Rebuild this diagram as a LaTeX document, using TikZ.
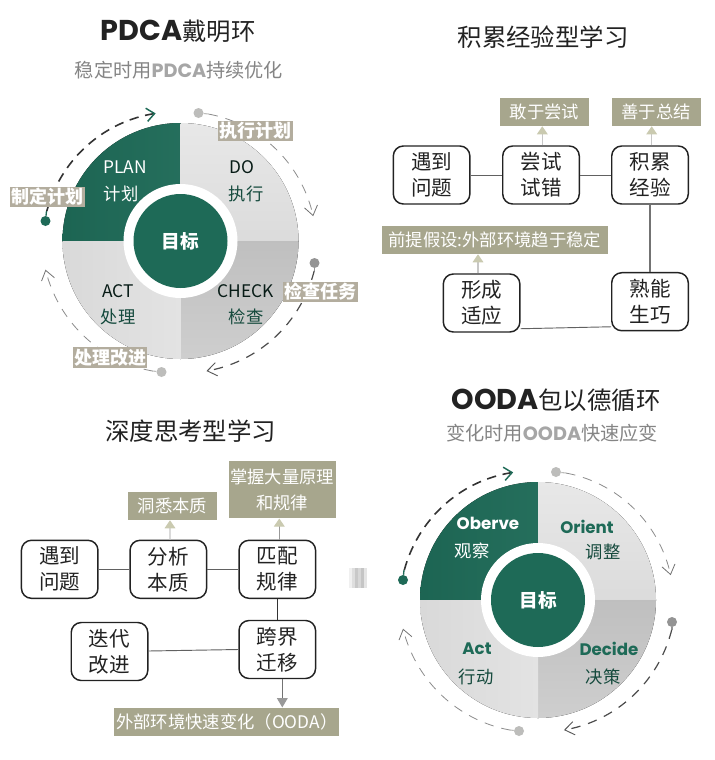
\documentclass[tikz,border=0pt]{standalone}
\usepackage{fontspec}
\setmainfont{Noto Sans CJK SC}
\newfontfamily\latinbold{Poppins}[BoldFont=Poppins Bold]
\usetikzlibrary{arrows.meta}
\definecolor{dgreen}{HTML}{1E6A57}
\definecolor{tagolive}{HTML}{A7A68D}
\definecolor{lab}{HTML}{B3AD9E}
\definecolor{tri}{HTML}{CACAB0}
\definecolor{inkc}{HTML}{222222}
\definecolor{dotgray}{HTML}{BDBDBB}
\tikzset{
 x=0.75pt,y=-0.75pt,
 box/.style={draw=inkc,line width=1.1pt,rounded corners=7.5pt,fill=white,minimum width=57.4pt,minimum height=43.5pt,inner sep=0pt,align=center,text=inkc,font=\fontsize{15.4}{19.5}\selectfont},
 tag/.style={fill=tagolive,text=white,inner sep=0pt,align=center,font=\fontsize{13}{19}\selectfont},
 lbl/.style={fill=lab,text=white,inner sep=0pt,minimum width=56pt,minimum height=15.5pt,font=\fontsize{13.5}{15}\selectfont\bfseries},
 title/.style={text=inkc,inner sep=0pt,font=\fontsize{18.3}{20}\selectfont},
 subtitle/.style={text=black!48,inner sep=0pt,font=\fontsize{14.4}{16}\selectfont},
 link/.style={draw=black!62,line width=0.7pt},
 up/.style={draw=black!22,line width=0.8pt,-{Triangle[width=8pt,length=6pt,fill=tri,color=tri]}},
 dk/.style={text=dgreen!70!black,inner sep=0pt,font=\fontsize{13}{15}\selectfont},
 wt/.style={text=white,inner sep=0pt,font=\fontsize{13}{15}\selectfont},
 ebf/.style={inner sep=0pt,font=\fontsize{12.5}{15}\latinbold\bfseries\selectfont},
 wdot/.style={circle,inner sep=0pt,minimum size=7.5pt},
 arcA/.style={draw=black!80,line width=1.2pt,dash pattern=on 7pt off 5pt,-{Straight Barb[length=6pt,width=10pt,color=dgreen,line width=1.1pt]}},
 arcB/.style={draw=black!45,line width=0.6pt,dash pattern=on 7pt off 6pt,-{Straight Barb[length=7pt,width=10pt,color=black!55,line width=0.6pt]}},
 arcC/.style={draw=black!70,line width=0.9pt,dash pattern=on 7pt off 6pt,-{Straight Barb[length=7pt,width=10pt,color=black!65,line width=0.7pt]}},
}
\newcommand\arcseg[5]{\draw[#5] plot[domain=#1:#2,samples=50,smooth] ({(#3+(#4-#3)*(\x-(#1))/((#2)-(#1)))*cos(\x)},{(#3+(#4-#3)*(\x-(#1))/((#2)-(#1)))*sin(\x)});}
\newcommand\wheel[3]{%
 \begin{scope}[shift={(#2,#3)}]
  \begin{scope}
   \clip (0,0) circle[radius=118];
   \fill[left color=dgreen!95!black,right color=dgreen!97!white] (-120,-120) rectangle (0,0);
   \fill[top color=black!9,bottom color=black!14] (0,-120) rectangle (120,0);
   \fill[top color=black!25,bottom color=black!19] (0,0) rectangle (120,120);
   \fill[left color=black!15,right color=black!11] (-120,0) rectangle (0,120);
  \end{scope}
  \fill[white] (0,0) circle[radius=57];
  \node[circle,fill=dgreen,minimum size=70.5pt,inner sep=0pt,text=white,font=\fontsize{14}{16}\selectfont\bfseries] (#1goal) at (0,0) {目标};
  \node[wdot,fill=dgreen] (#1dA) at (-135,-20) {};
  \node[wdot,fill=dotgray] (#1dB) at (18,-128) {};
  \node[wdot,fill=black!42] (#1dC) at (134,22) {};
  \node[wdot,fill=dotgray] (#1dD) at (-19,131) {};
  \coordinate (#1sA) at (-134,-30);
  \coordinate (#1sB) at (28,-127);
  \coordinate (#1sC) at (134,30);
  \coordinate (#1sD) at (-28,130);
  \draw[dgreen,line width=1pt] (#1dA) -- (#1sA);
  \draw[dotgray,line width=0.8pt] (#1dB) -- (#1sB);
  \draw[black!42,line width=1pt] (#1dC) -- (#1sC);
  \draw[dotgray,line width=0.8pt] (#1dD) -- (#1sD);
  \arcseg{192.6}{259}{137}{130}{arcA}
  \arcseg{-77.5}{-10.6}{130}{135}{arcB}
  \arcseg{12.6}{78.7}{137}{132.6}{arcC}
  \arcseg{102}{168}{133}{138}{arcB}
 \end{scope}}
\begin{document}
\begin{tikzpicture}
\useasboundingbox[fill=white] (0,0) rectangle (714,760);
% --- PDCA
\node[title] (t1) at (178,31) {{\latinbold\bfseries\fontsize{21.5}{20}\selectfont PDCA}戴明环};
\node[subtitle] (s1) at (179,70) {稳定时用{\latinbold\bfseries\color{black!35}PDCA}持续优化};
\wheel{p}{180.5}{241}
\node[wt] (pl1) at (125,167) {PLAN};
\node[wt] (pl2) at (121,194) {计划};
\node[dk,text=black!75!dgreen] (do1) at (242,167) {DO};
\node[dk] (do2) at (246,194) {执行};
\node[dk,text=black!75!dgreen] (ac1) at (118,291) {ACT};
\node[dk] (ac2) at (118,317) {处理};
\node[dk,text=black!75!dgreen] (ch1) at (246,291) {CHECK};
\node[dk] (ch2) at (246,317) {检查};
\node[lbl] (l1) at (47.5,197) {制定计划};
\node[lbl] (l2) at (255.5,131) {执行计划};
\node[lbl] (l3) at (320.5,292) {检查任务};
\node[lbl] (l4) at (110,357.5) {处理改进};
% --- OODA
\node[title] (t2) at (556,400) {{\latinbold\bfseries\fontsize{21.5}{20}\selectfont OODA}包以德循环};
\node[subtitle] (s2) at (552,433) {变化时用{\latinbold\bfseries\color{black!35}OODA}快速应变};
\wheel{o}{538}{600}
\node[ebf,text=white] (ob1) at (488,523) {Oberve};
\node[wt] (ob2) at (472,551) {观察};
\node[ebf,text=dgreen] (or1) at (587,527) {Orient};
\node[dk] (or2) at (603,552) {调整};
\node[ebf,text=dgreen] (ac3) at (477,649) {Act};
\node[dk] (ac4) at (476,677) {行动};
\node[ebf,text=dgreen] (de1) at (609,649) {Decide};
\node[dk] (de2) at (603,677) {决策};
% --- experience
\node[title] (t3) at (543,37) {积累经验型学习};
\node[box] (a1) at (431.6,175) {遇到\\问题};
\node[box] (a2) at (541,175) {尝试\\试错};
\node[box] (a3) at (650,175) {积累\\经验};
\node[box] (a4) at (650,301.7) {熟能\\生巧};
\node[box] (a5) at (481.6,303) {形成\\适应};
\node[tag,minimum width=66.5pt,minimum height=21pt] (g1) at (544.6,112) {敢于尝试};
\node[tag,minimum width=66.5pt,minimum height=21pt] (g2) at (656.3,112) {善于总结};
\node[tag,minimum width=169.3pt,minimum height=21pt] (g3) at (494.8,240) {前提假设:外部环境趋于稳定};
\draw[link] (a1) -- (a2);
\draw[link] (a2) -- (a3);
\draw[link,draw=black!55,line width=1pt] (a3) -- (a4);
\draw[link] ([yshift=3.5pt]a4.south west) -- ([yshift=3pt]a5.south east);
\draw[up] (a2.north) ++(1.3,0) -- (g1.south -| {542.3,0});
\draw[up] (a3.north) ++(1.7,0) -- (g2.south -| {651.7,0});
\draw[up] (a5.north) ++(-3.6,0) -- (g3.south -| {478,0});
% --- deep
\node[title] (t4) at (190.7,431) {深度思考型学习};
\node[box] (b1) at (59.7,569.3) {遇到\\问题};
\node[box] (b2) at (168.3,569.3) {分析\\本质};
\node[box] (b3) at (277.3,569.3) {匹配\\规律};
\node[box] (b4) at (277.3,649.5) {跨界\\迁移};
\node[box] (b5) at (109.5,651.5) {迭代\\改进};
\node[tag,minimum width=66.3pt,minimum height=21.3pt] (h1) at (172.5,505.8) {洞悉本质};
\node[tag,minimum width=80pt,minimum height=42.7pt] (h2) at (282.3,489.8) {掌握大量原理\\和规律};
\node[tag,minimum width=169pt,minimum height=21pt] (h3) at (226.7,721.7) {外部环境快速变化（OODA）};
\draw[link] (b1) -- (b2);
\draw[link] (b2) -- (b3);
\draw[link,draw=black!80] (b3) -- (b4);
\draw[link] (b5.east) ++(0,-0.5) -- (b4.west);
\draw[up] (b2.north) ++(1.7,0) -- (h1.south -| {170,0});
\draw[up,draw=black!40] (b3.north) ++(2,0) -- (h2.south -| {279.3,0});
\draw[draw=black!55,line width=0.8pt,-{Triangle[width=8pt,length=7pt,color=black!40]}] (b4.south) ++(5,0) -- (h3.north -| {282.3,0});
% --- smudge
\foreach \sx/\so in {349/.08,352/.18,355/.3,358/.22,361/.32,364/.14}
 \fill[black!70,opacity=\so] (\sx,568) rectangle (\sx+2.6,588);
\end{tikzpicture}
\end{document}
